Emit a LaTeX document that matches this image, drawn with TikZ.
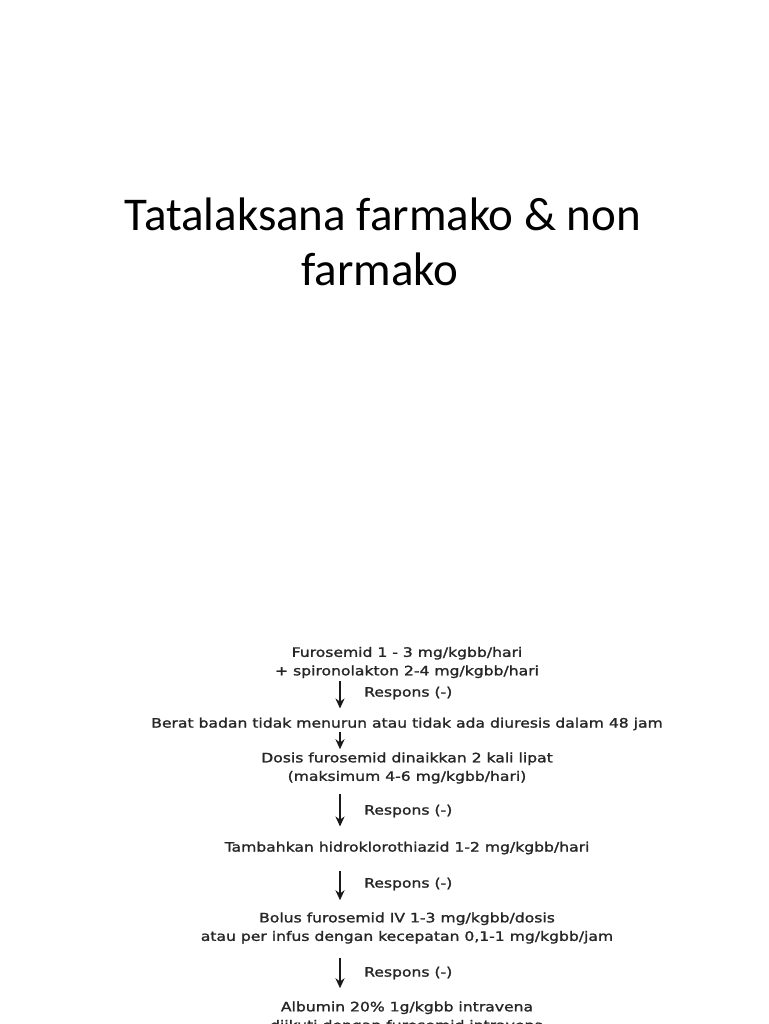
\documentclass[tikz,border=0pt]{standalone}
\usepackage{fontspec}
\setmainfont{Carlito}
\newfontfamily\flowfont[FakeStretch=1.2,FakeBold=1.5]{DejaVu Sans}
\usetikzlibrary{arrows.meta,positioning}

\begin{document}
\begin{tikzpicture}[x=1pt,y=-1pt,
    stepbox/.style={align=center,inner sep=2pt,font=\flowfont\fontsize{13}{18.5}\selectfont,text=black!85},
    resp/.style={anchor=west,inner sep=0pt,font=\flowfont\fontsize{13}{15}\selectfont,text=black!85},
    flow/.style={-{Stealth[length=10pt,width=9pt]},line width=2.4pt,black!90}]
    \useasboundingbox (0,0) rectangle (768,1024);
    % title
    \node[anchor=base,font=\fontsize{47}{55}\selectfont] (title1) at (383,230) {Tatalaksana farmako \& non};
    \node[anchor=base,font=\fontsize{47}{55}\selectfont] (title2) at (380,285) {farmako};
    % steps
    \node[stepbox] (s1) at (407,662.5) {Furosemid 1 - 3 mg/kgbb/hari\\+ spironolakton 2-4 mg/kgbb/hari};
    \node[stepbox] (s2) at (407,724)   {Berat badan tidak menurun atau tidak ada diuresis dalam 48 jam};
    \node[stepbox] (s3) at (407,768)   {Dosis furosemid dinaikkan 2 kali lipat\\(maksimum 4-6 mg/kgbb/hari)};
    \node[stepbox] (s4) at (407,848)   {Tambahkan hidroklorothiazid 1-2 mg/kgbb/hari};
    \node[stepbox] (s5) at (407,928)   {Bolus furosemid IV 1-3 mg/kgbb/dosis\\atau per infus dengan kecepatan 0,1-1 mg/kgbb/jam};
    \node[stepbox] (s6) at (407,1017)  {Albumin 20\% 1g/kgbb intravena\\diikuti dengan furosemid intravena};
    \coordinate (col) at (340,0);
    % arrows
    \draw[flow,shorten <=1pt,shorten >=7pt] (s1.south -| col) -- (s2.north -| col);
    \draw[flow,shorten <=0pt,shorten >=1pt] (s2.south -| col) -- (s3.north -| col);
    \draw[flow,shorten <=8pt,shorten >=13pt] (s3.south -| col) -- (s4.north -| col);
    \draw[flow,shorten <=14pt,shorten >=10pt] (s4.south -| col) -- (s5.north -| col);
    \draw[flow,shorten <=12pt,shorten >=11pt] (s5.south -| col) -- (s6.north -| col);
    % labels
    \node[resp] (r1) at (364,693) {Respons (-)};
    \node[resp] (r3) at (364,811) {Respons (-)};
    \node[resp] (r4) at (364,884) {Respons (-)};
    \node[resp] (r5) at (364,973) {Respons (-)};
\end{tikzpicture}
\end{document}
